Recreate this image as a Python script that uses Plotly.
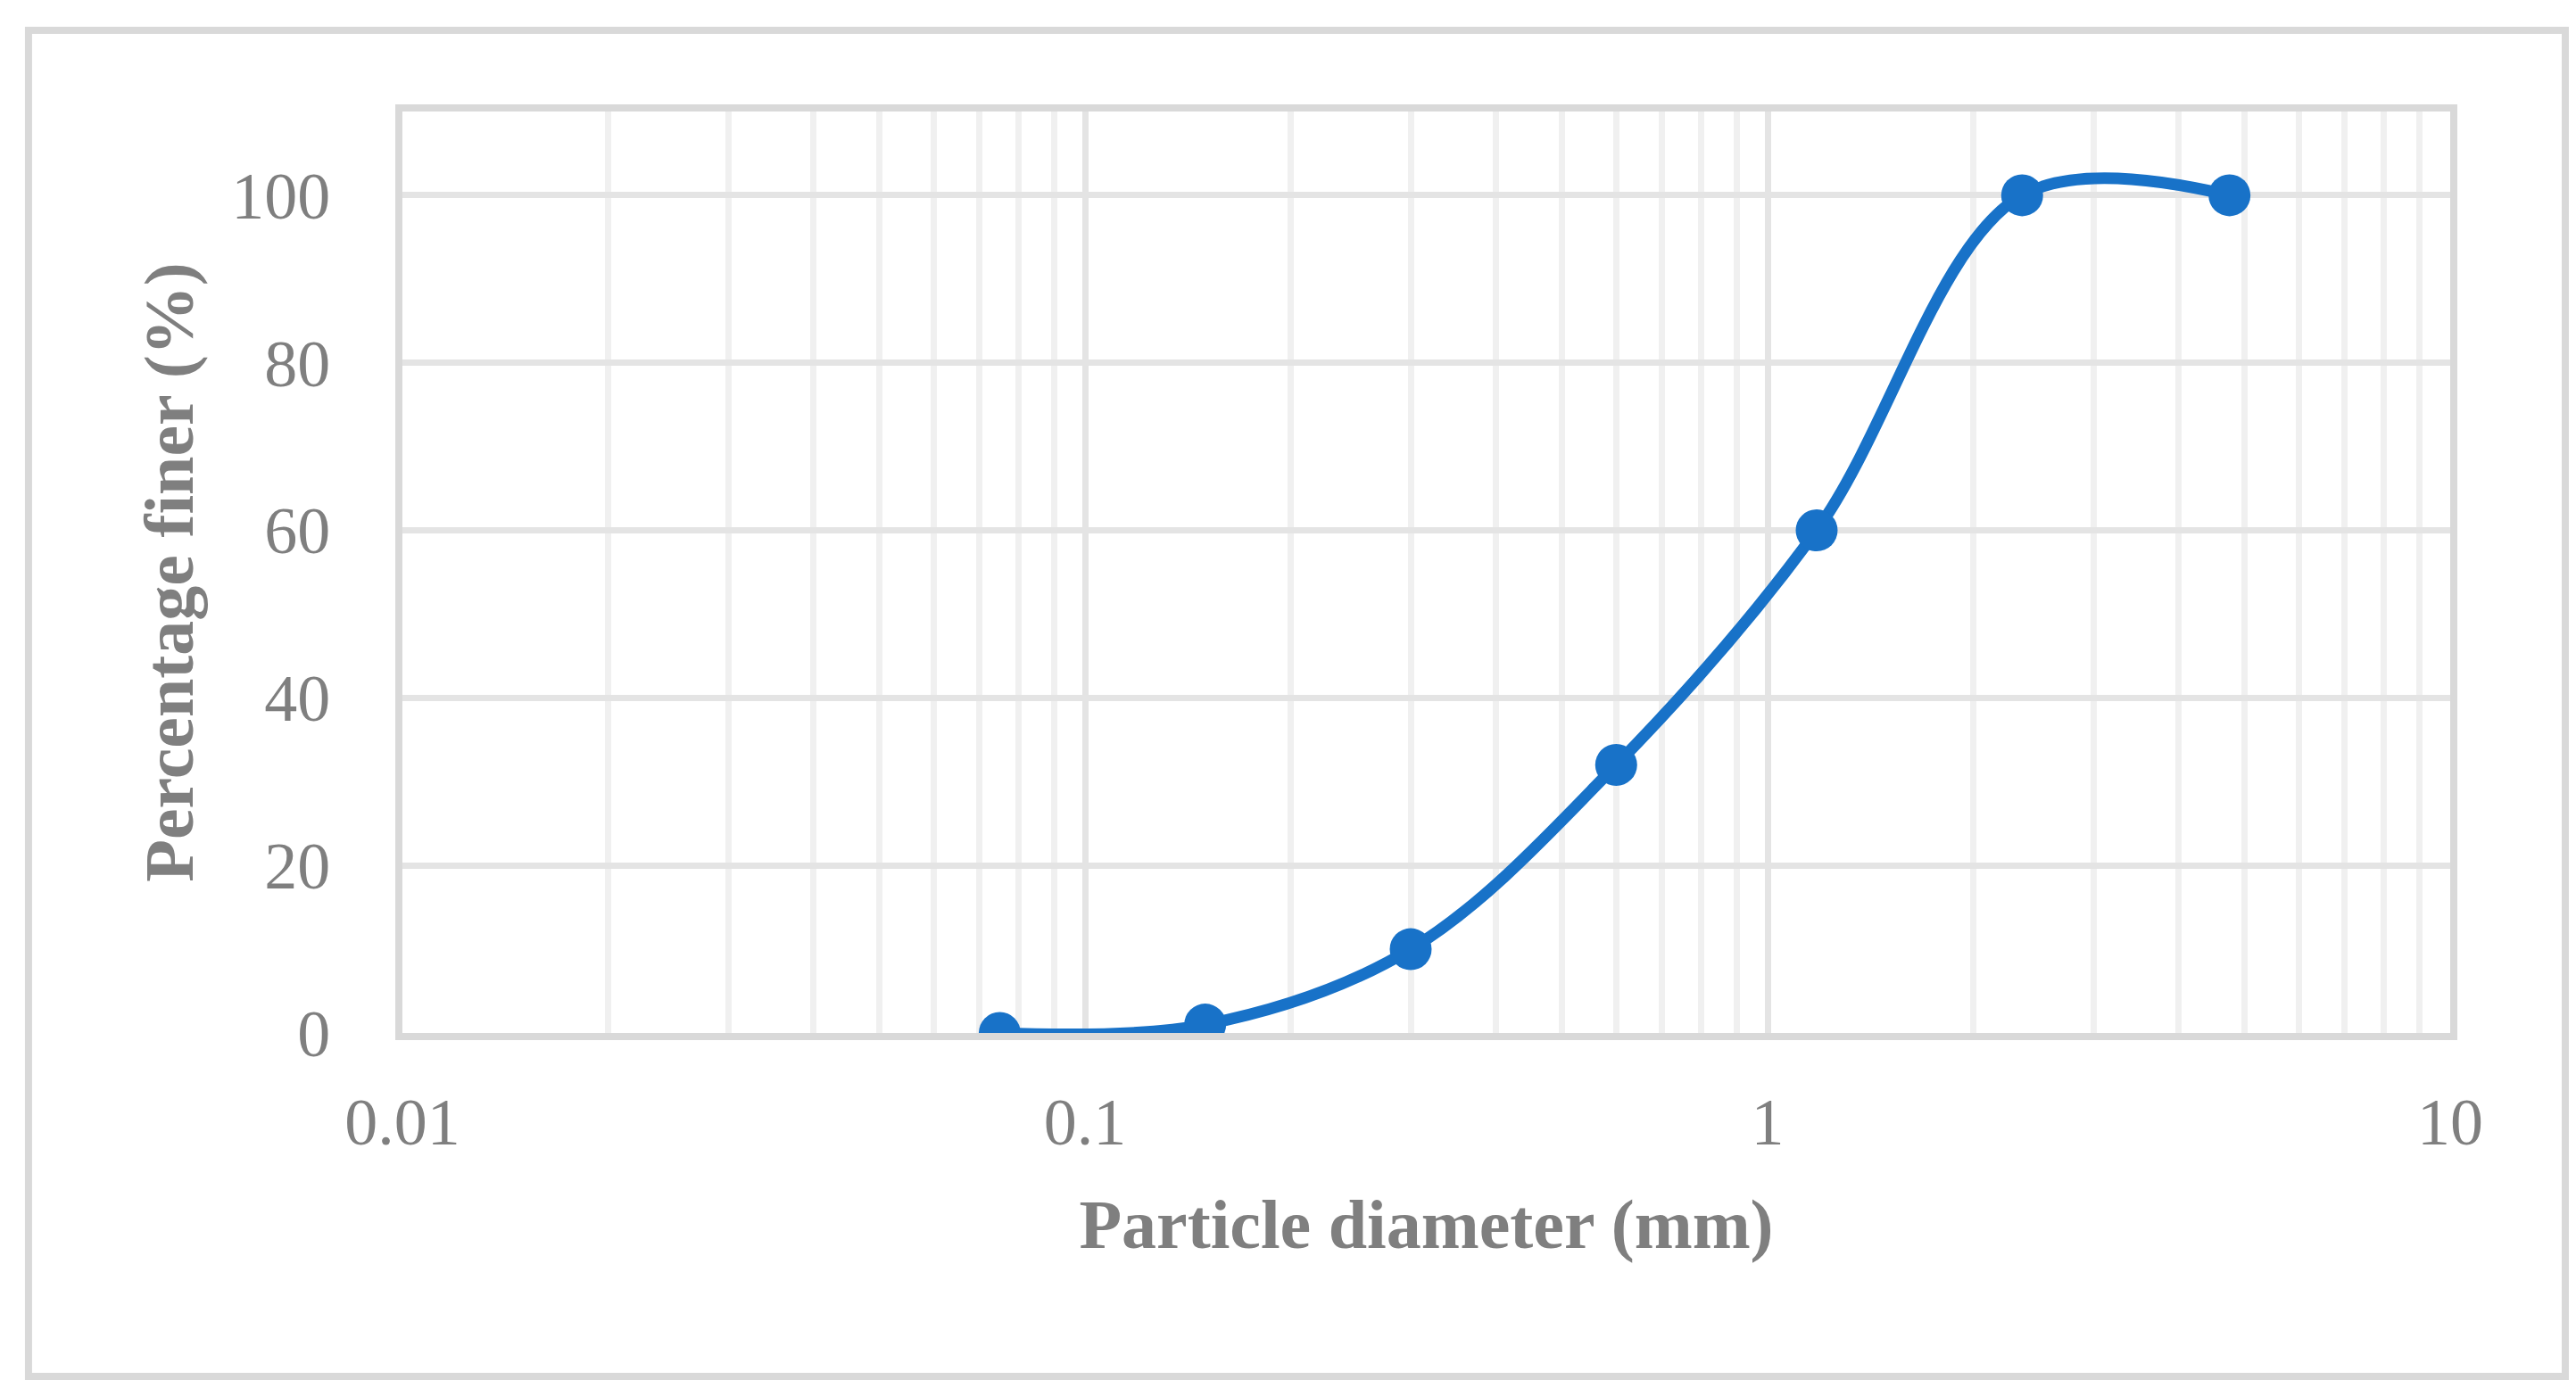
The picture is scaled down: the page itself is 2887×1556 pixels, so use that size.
import plotly.graph_objects as go

# --- Dados: curva granulométrica ---
diametro_mm = [0.075, 0.15, 0.3, 0.6, 1.18, 2.36, 4.75]
passante_pct = [0, 1, 10, 32, 60, 100, 100]

x_tickvals = [0.01, 0.1, 1, 10]
x_ticktext = ["0.01", "0.1", "1", "10"]
y_tickvals = [0, 20, 40, 60, 80, 100]

AZUL = "#1872c8"
CINZA_TEXTO = "#7f7f7f"
FONTE = "Liberation Serif"

fig = go.Figure()
fig.add_trace(go.Scatter(
    x=diametro_mm,
    y=passante_pct,
    mode="lines+markers",
    line=dict(color=AZUL, width=13, shape="spline", smoothing=1),
    marker=dict(color=AZUL, size=47),
    showlegend=False,
))

fig.update_xaxes(
    type="log",
    range=[-2, 1],
    tickvals=x_tickvals,
    ticktext=x_ticktext,
    tickfont=dict(family=FONTE, size=74, color=CINZA_TEXTO),
    ticklabelstandoff=28,
    showgrid=True,
    gridcolor="#e4e4e4",
    gridwidth=7,
    minor=dict(dtick="D1", showgrid=True, gridcolor="#f0f0f0", gridwidth=7),
    showline=True,
    linecolor="#d9d9d9",
    linewidth=8,
    mirror=True,
    zeroline=False,
    title=dict(
        text="<b>Particle diameter (mm)</b>",
        font=dict(family=FONTE, size=78, color=CINZA_TEXTO),
        standoff=50,
    ),
)

fig.update_yaxes(
    range=[0, 110],
    tickvals=y_tickvals,
    tickfont=dict(family=FONTE, size=74, color=CINZA_TEXTO),
    ticklabelstandoff=58,
    showgrid=True,
    gridcolor="#e4e4e4",
    gridwidth=7,
    showline=True,
    linecolor="#d9d9d9",
    linewidth=8,
    mirror=True,
    zeroline=False,
    title=dict(
        text="<b>Percentage finer (%)</b>",
        font=dict(family=FONTE, size=78, color=CINZA_TEXTO),
        standoff=20,
    ),
)

# moldura externa do gráfico (estilo Excel)
fig.add_shape(
    type="rect", xref="paper", yref="paper",
    x0=-0.1826, x1=1.0562, y0=-0.3727, y1=1.0881,
    line=dict(color="#d9d9d9", width=8),
    layer="below",
)

fig.update_layout(
    width=2887,
    height=1556,
    margin=dict(l=443, r=149, t=117, b=406),
    paper_bgcolor="white",
    plot_bgcolor="white",
)

fig.write_html("out.html")
